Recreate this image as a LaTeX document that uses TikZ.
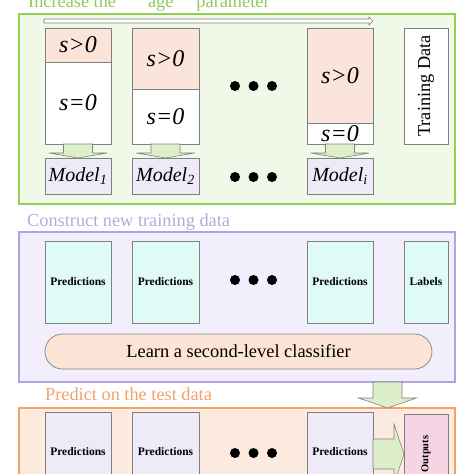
\documentclass[tikz,border=0pt]{standalone}
\usepackage{fontspec}
\usepackage{graphicx}
\setmainfont{Liberation Serif}
\usetikzlibrary{calc}
\definecolor{boxgray}{HTML}{808080}
\definecolor{greenB}{HTML}{92D050}
\definecolor{greenF}{HTML}{F0F8E7}
\definecolor{greenT}{HTML}{8FCB5B}
\definecolor{peachF}{HTML}{FBE4DA}
\definecolor{lavF}{HTML}{EEEAF8}
\definecolor{arrowF}{HTML}{DCEFC9}
\definecolor{purB}{HTML}{AFA3E3}
\definecolor{purF}{HTML}{F2EEFB}
\definecolor{purT}{HTML}{B4AAE0}
\definecolor{cyanF}{HTML}{DEFBF6}
\definecolor{learnF}{HTML}{FCE4D6}
\definecolor{oraB}{HTML}{F2A468}
\definecolor{oraF}{HTML}{FDEBDF}
\definecolor{oraT}{HTML}{F2A36B}
\definecolor{pinkF}{HTML}{F7D4E4}
\newcommand{\blockdown}[2]{%
  \draw[blockarrow] ($(#1.south)+(-14.5,0)$) -- ($(#1.south)+(14.5,0)$)
    -- ($(#2.north)+(14.5,-5)$) -- ($(#2.north)+(29,-5)$) -- (#2.north)
    -- ($(#2.north)+(-29,-5)$) -- ($(#2.north)+(-14.5,-5)$) -- cycle;}
\begin{document}
\begin{tikzpicture}[x=1pt,y=-1pt,
  box/.style={draw=boxgray, line width=0.7pt, inner sep=0pt, outer sep=0pt, anchor=north west},
  panel/.style={line width=2pt, inner sep=0pt, outer sep=0pt, anchor=north west},
  title/.style={anchor=base west, inner sep=0pt, font=\fontsize{18.3}{18.3}\selectfont},
  sval/.style={font=\fontsize{24}{24}\selectfont\itshape},
  model/.style={box, fill=lavF, minimum height=36, font=\fontsize{20}{20}\selectfont\itshape},
  pred/.style={box, font=\fontsize{11.5}{11.5}\selectfont\bfseries},
  dot/.style={circle, fill=black, inner sep=0pt, minimum size=10},
  blockarrow/.style={draw=boxgray, line width=0.6pt, fill=arrowF}]
\useasboundingbox (0,0) rectangle (474,474);
\clip (0,0) rectangle (474,474);
\fill[white] (0,0) rectangle (474,474);

% ---------- top panel ----------
\node[panel, draw=greenB, fill=greenF, minimum width=436, minimum height=190] (P1) at (19,14) {};
\node[title, text=greenT] (T1) at (28,7) {Increase the\hspace{32pt}age\hspace{23pt}parameter};

\coordinate (ta) at (44,21);
\coordinate (tb) at (373,21);
\draw[boxgray, line width=0.6pt, fill=white]
  ($(ta)+(0,-2)$) -- ($(tb)+(-4,-2)$) -- ($(tb)+(-4,-4)$) -- (tb) -- ($(tb)+(-4,4)$)
  -- ($(tb)+(-4,2)$) -- ($(ta)+(0,2)$) -- cycle;

\node[box, fill=peachF, minimum width=66, minimum height=34, sval] (c1a) at (45,28) {s>0};
\node[box, fill=white,  minimum width=66, minimum height=82, sval] (c1b) at (45,62) {s=0};
\node[box, fill=peachF, minimum width=67, minimum height=61, sval] (c2a) at (132,28) {s>0};
\node[box, fill=white,  minimum width=67, minimum height=55, sval] (c2b) at (132,89) {s=0};
\node[box, fill=peachF, minimum width=66, minimum height=95, sval] (c3a) at (307,28) {s>0};
\node[box, fill=white,  minimum width=66, minimum height=21, sval] (c3b) at (307,123) {s=0};
\node[box, fill=white, minimum width=44, minimum height=116,
      font=\fontsize{18.3}{18.3}\selectfont] (TD) at (404,28) {\rotatebox{90}{Training Data}};

\node[model, minimum width=66] (m1) at (45,158) {Model\textsubscript{1}};
\node[model, minimum width=67] (m2) at (132,158) {Model\textsubscript{2}};
\node[model, minimum width=66] (m3) at (307,158) {Model\textsubscript{i}};

\blockdown{c1b}{m1}
\blockdown{c2b}{m2}
\blockdown{c3b}{m3}

\node[dot] (d1) at (235,86) {};
\node[dot] (d2) at (253.5,86) {};
\node[dot] (d3) at (272,86) {};
\node[dot] (d4) at (235,177) {};
\node[dot] (d5) at (253.5,177) {};
\node[dot] (d6) at (272,177) {};

% ---------- middle panel ----------
\node[panel, draw=purB, fill=purF, minimum width=436, minimum height=150] (P2) at (19,232) {};
\node[title, text=purT] (T2) at (27,226) {Construct new training data};

\node[pred, fill=cyanF, minimum width=66, minimum height=82] (p1) at (45,241) {Predictions};
\node[pred, fill=cyanF, minimum width=67, minimum height=82] (p2) at (132,241) {Predictions};
\node[pred, fill=cyanF, minimum width=66, minimum height=82] (p3) at (307,241) {Predictions};
\node[pred, fill=cyanF, minimum width=44, minimum height=82] (lb) at (404,241) {Labels};

\node[dot] (d7) at (235,280) {};
\node[dot] (d8) at (253.5,280) {};
\node[dot] (d9) at (272,280) {};

\node[box, fill=learnF, rounded corners=17.5, minimum width=387, minimum height=35,
      font=\fontsize{18.4}{18.4}\selectfont] (L) at (45,334) {Learn a second-level classifier};

% ---------- bottom panel ----------
\node[panel, draw=oraB, fill=oraF, minimum width=436, minimum height=100] (P3) at (19,408) {};
\node[title, text=oraT] (T3) at (45,400.5) {Predict on the test data};

\coordinate (da) at (387.5,382);
\coordinate (db) at (387.5,408);
\draw[blockarrow] ($(da)+(-14.5,0)$) -- ($(da)+(14.5,0)$) -- ($(db)+(14.5,-10)$)
  -- ($(db)+(29,-10)$) -- (db) -- ($(db)+(-29,-10)$) -- ($(db)+(-14.5,-10)$) -- cycle;

\node[pred, fill=lavF, minimum width=66, minimum height=80] (q1) at (45,412) {Predictions};
\node[pred, fill=lavF, minimum width=67, minimum height=80] (q2) at (132,412) {Predictions};
\node[pred, fill=lavF, minimum width=66, minimum height=80] (q3) at (307,412) {Predictions};
\node[box, fill=pinkF, minimum width=44, minimum height=80,
      font=\fontsize{10.5}{10.5}\selectfont\bfseries] (O) at (404,414) {\rotatebox{90}{Outputs}};

\node[dot] (e1) at (235,453) {};
\node[dot] (e2) at (253.5,453) {};
\node[dot] (e3) at (272,453) {};

\draw[blockarrow] ($(q3.east |- O.west)+(0,-15)$) -- ($(O.west)+(-10,-15)$)
  -- ($(O.west)+(-10,-30)$) -- (O.west) -- ($(O.west)+(-10,30)$)
  -- ($(O.west)+(-10,15)$) -- ($(q3.east |- O.west)+(0,15)$) -- cycle;
\end{tikzpicture}
\end{document}
